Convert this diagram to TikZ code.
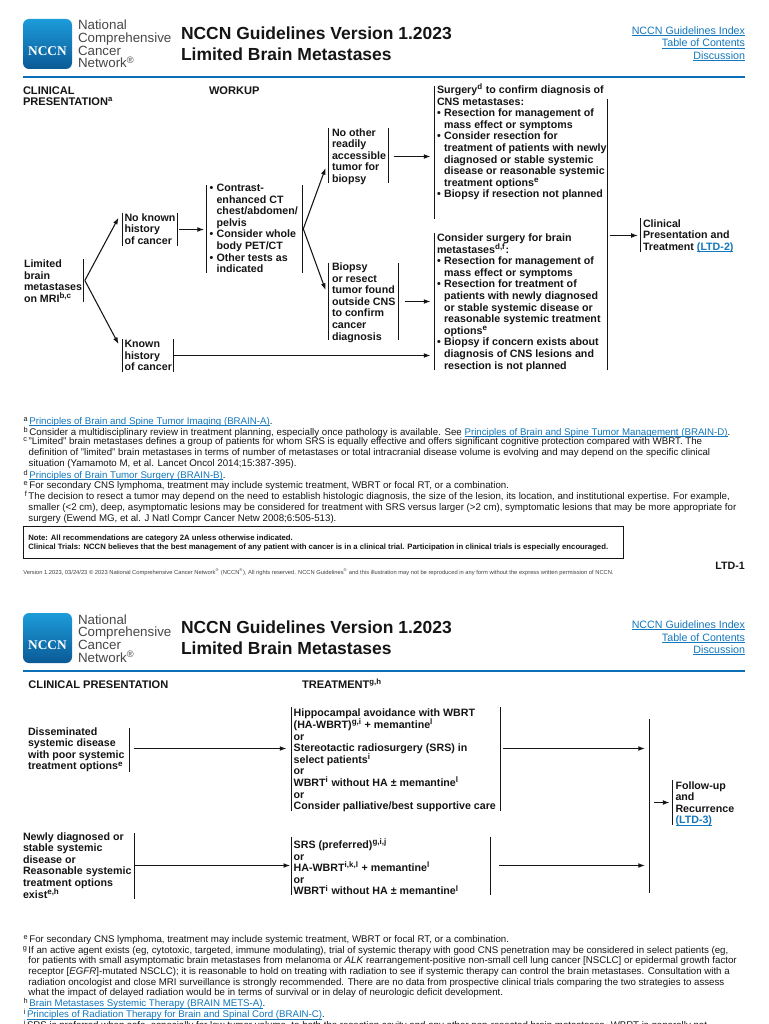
\documentclass[tikz,border=0pt]{standalone}
\usepackage{fontspec}
\setmainfont{Liberation Sans}
\newfontfamily\logoserif{Liberation Serif}
\usetikzlibrary{arrows.meta}
\definecolor{nccnblue}{HTML}{0B6FB5}
\definecolor{nccnlink}{HTML}{1277BD}
\definecolor{ink}{HTML}{151515}
\setlength{\lineskiplimit}{-10pt}
\newcommand\lnk[1]{\textcolor{nccnlink}{\sbox0{#1}\rlap{\rule[-1pt]{\wd0}{0.45pt}}\box0}}
\newcommand\bul{\makebox[5.3pt][l]{•}}
\newcommand\ind{\hspace*{5.3pt}}
\newcommand\su[1]{\smash{\textsuperscript{#1}}}
\newcommand\fm[1]{\strut\llap{\raisebox{2.4pt}{\fontsize{5.5}{6}\selectfont #1}\hspace{1.2pt}}}
\tikzset{
  frame/.style={rectangle,inner sep=0pt,outer sep=0pt},
  bar/.style={line width=0.8pt,draw=ink},
  arr/.style={line width=0.8pt,draw=ink,-{Latex[length=5pt,width=3.6pt]}},
  body/.style={anchor=north west,inner sep=0pt,outer sep=0pt,align=left,text=ink,yshift=3pt,
    font=\fontsize{8}{8.7}\selectfont\bfseries},
  fnote/.style={anchor=north west,inner sep=0pt,outer sep=0pt,align=left,text=ink,yshift=3.2pt,
    font=\fontsize{7.27}{8}\selectfont},
  headtext/.style={body,font=\fontsize{8.3}{8.7}\selectfont\bfseries},
  toplink/.style={anchor=base east,inner sep=0pt,outer sep=0pt,font=\fontsize{8}{9}\selectfont},
  titletext/.style={anchor=west,inner sep=0pt,outer sep=0pt,font=\fontsize{13.1}{15}\selectfont\bfseries,text=ink},
  logotext/.style={anchor=base west,inner sep=0pt,outer sep=0pt,text=black!72,font=\fontsize{10}{12}\selectfont}
}
% name, x0, y0, x1, y1 : an invisible frame whose edges carry the bars
\newcommand\fr[5]{\node[frame,minimum width={(#4-#2)*0.75pt},minimum height={(#5-#3)*0.75pt}] (#1) at ({(#2+#4)/2},{(#3+#5)/2}) {};}
\newcommand\lbar[1]{\draw[bar] (#1.north west) -- (#1.south west);}
\newcommand\rbar[1]{\draw[bar] (#1.north east) -- (#1.south east);}
\definecolor{logotop}{HTML}{1D9CDA}
\definecolor{logobot}{HTML}{0A5A96}
% header shared by both pages
\newcommand\pagehead[2]{%
  \shade[top color=logotop,bottom color=logobot,rounded corners=4.5pt] (23,19+#2) rectangle (72,69+#2);
  \node[inner sep=0pt,text=white,font=\logoserif\fontsize{10}{10}\selectfont\bfseries] (logo#1) at (47.5,51+#2) {NCCN};
  \node[logotext] (lna#1) at (78,30+#2) {National};
  \node[logotext] (lnb#1) at (78,42.7+#2) {Comprehensive};
  \node[logotext] (lnc#1) at (78,55.5+#2) {Cancer};
  \node[logotext] (lnd#1) at (78,68+#2) {Network\su{®}};
  \node[titletext] (ta#1) at (181,33+#2) {NCCN Guidelines Version 1.2023};
  \node[titletext] (tb#1) at (181,54+#2) {Limited Brain Metastases};
  \node[toplink] (la#1) at (745,34.5+#2) {\lnk{NCCN Guidelines Index}};
  \node[toplink] (lb#1) at (745,47+#2) {\lnk{Table of Contents}};
  \node[toplink] (lc#1) at (745,59.5+#2) {\lnk{Discussion}};
  \draw[line width=1.5pt,nccnblue] (23,77+#2) -- (745,77+#2);
}
\begin{document}
\begin{tikzpicture}[x=0.75pt,y=-0.75pt]
\useasboundingbox (0,0) rectangle (768,1024);
\clip (0,0) rectangle (768,1024);
\fill[white] (0,0) rectangle (768,1024);

%%% PAGE 1
\pagehead{p}{0}
\node[headtext] (h1) at (23,90) {\strut CLINICAL\\PRESENTATION\su{a}};
\node[headtext] (h2) at (209,90) {\strut WORKUP};

\fr{lim}{23}{259}{83.5}{302} \rbar{lim}
\node[body] (limt) at (24,263.3) {\strut Limited\\brain\\metastases\\on MRI\su{b,c}};

\fr{nk}{122.5}{212.7}{177.5}{245.7} \lbar{nk} \rbar{nk}
\node[body] (nkt) at (124.5,217) {\strut No known\\history\\of cancer};

\fr{kn}{122.5}{339}{173.5}{372} \lbar{kn} \rbar{kn}
\node[body] (knt) at (124.5,343.3) {\strut Known\\history\\of cancer};

\fr{wk}{206.5}{185}{302.5}{272.7} \lbar{wk} \rbar{wk}
\node[body] (wkt) at (209.5,187.3) {\strut\bul Contrast-\\\ind enhanced CT\\\ind chest/abdomen/\\\ind pelvis\\\bul Consider whole\\\ind body PET/CT\\\bul Other tests as\\\ind indicated};

\fr{no}{328.5}{128}{388.5}{182.7} \lbar{no} \rbar{no}
\node[body] (not) at (332,132) {\strut No other\\readily\\accessible\\tumor for\\biopsy};

\fr{bi}{328.5}{263}{398.5}{340} \lbar{bi} \rbar{bi}
\node[body] (bit) at (332,266.3) {\strut Biopsy\\or resect\\tumor found\\outside CNS\\to confirm\\cancer\\diagnosis};

\fr{sg}{434.5}{86}{607.5}{219} \lbar{sg}
\node[body] (sgt) at (437,89.3) {\strut Surgery\su{d} to confirm diagnosis of\\CNS metastases:\\\bul Resection for management of\\\ind mass effect or symptoms\\\bul Consider resection for\\\ind treatment of patients with newly\\\ind diagnosed or stable systemic\\\ind disease or reasonable systemic\\\ind treatment options\su{e}\\\bul Biopsy if resection not planned};

\fr{co}{434.5}{233}{607.5}{370} \lbar{co}
\node[body] (cot) at (437,237.3) {\strut Consider surgery for brain\\metastases\su{d,f}:\\\bul Resection for management of\\\ind mass effect or symptoms\\\bul Resection for treatment of\\\ind patients with newly diagnosed\\\ind or stable systemic disease or\\\ind reasonable systemic treatment\\\ind options\su{e}\\\bul Biopsy if concern exists about\\\ind diagnosis of CNS lesions and\\\ind resection is not planned};

\fr{sh}{607.5}{99}{607.5}{370} \rbar{sh}

\fr{cl}{640.5}{218.3}{745}{251.7} \lbar{cl}
\node[body] (clt) at (643,223) {\strut Clinical\\Presentation and\\Treatment \lnk{(LTD-2)}};

\draw[arr] ([xshift=1pt]lim.east) -- ([xshift=-3pt]nk.west |- 0,217.7);
\draw[arr] ([xshift=1pt]lim.east) -- ([xshift=-3pt]kn.west |- 0,344);
\draw[arr] ([xshift=1.2pt]nk.east |- 0,229.5) -- ([xshift=-1.8pt]wk.west |- 0,229.5);
\draw[arr] ([xshift=0.6pt]wk.east) -- ([xshift=-2.2pt]no.west |- 0,168);
\draw[arr] ([xshift=0.6pt]wk.east) -- ([xshift=-2.2pt]bi.west |- 0,290);
\draw[arr] ([xshift=3.8pt]no.east |- 0,156.5) -- ([xshift=-3pt]sg.west |- 0,156.5);
\draw[arr] ([xshift=4.5pt]bi.east |- 0,301.5) -- ([xshift=-3pt]co.west |- 0,301.5);
\draw[arr] (kn.east |- 0,355.5) -- ([xshift=-3pt]co.west |- 0,355.5);
\draw[arr] ([xshift=1.5pt]sh.east |- 0,235.5) -- ([xshift=-2pt]cl.west |- 0,235.5);

% footnotes, page 1
\node[fnote] (fa) at (29.4,421) {\fm{a}\lnk{Principles of Brain and Spine Tumor Imaging (BRAIN-A)}.};
\node[fnote] (fb) at (29.4,431.3) {\fm{b}Consider a multidisciplinary review in treatment planning, especially once pathology is available. See \lnk{Principles of Brain and Spine Tumor Management (BRAIN-D)}.};
\node[fnote] (fc) at (28.7,441.7) {\fm{c}"Limited" brain metastases defines a group of patients for whom SRS is equally effective and offers significant cognitive protection compared with WBRT. The\\definition of "limited" brain metastases in terms of number of metastases or total intracranial disease volume is evolving and may depend on the specific clinical\\situation (Yamamoto M, et al. Lancet Oncol 2014;15:387-395).};
\node[fnote] (fd) at (29.4,474.3) {\fm{d}\lnk{Principles of Brain Tumor Surgery (BRAIN-B)}.};
\node[fnote] (fe) at (29.4,485) {\fm{e}For secondary CNS lymphoma, treatment may include systemic treatment, WBRT or focal RT, or a combination.};
\node[fnote] (ff) at (28.5,495.7) {\fm{f}The decision to resect a tumor may depend on the need to establish histologic diagnosis, the size of the lesion, its location, and institutional expertise. For example,\\smaller (<2 cm), deep, asymptomatic lesions may be considered for treatment with SRS versus larger (>2 cm), symptomatic lesions that may be more appropriate for\\surgery (Ewend MG, et al. J Natl Compr Cancer Netw 2008;6:505-513).};

\node[draw=ink,line width=0.9pt,frame,minimum width=450pt,minimum height=24pt] (nb) at (323.5,542.5) {};
\node[anchor=north west,inner sep=0pt,align=left,text=ink,yshift=2.8pt,font=\fontsize{5.8}{7}\selectfont\bfseries] (note) at (28,537.3) {\strut Note: All recommendations are category 2A unless otherwise indicated.\\Clinical Trials: NCCN believes that the best management of any patient with cancer is in a clinical trial. Participation in clinical trials is especially encouraged.};
\node[anchor=west,inner sep=0pt,text=black!75,font=\fontsize{4.33}{5}\selectfont] (ver) at (23,573) {Version 1.2023, 03/24/23 © 2023 National Comprehensive Cancer Network\su{®} (NCCN\su{®}), All rights reserved. NCCN Guidelines\su{®} and this illustration may not be reproduced in any form without the express written permission of NCCN.};
\node[anchor=east,inner sep=0pt,text=ink,font=\fontsize{8}{9}\selectfont\bfseries] (pg) at (745,566) {LTD-1};

%%% PAGE 2
\pagehead{q}{594}
\node[headtext] (h3) at (28.5,684.3) {\strut CLINICAL PRESENTATION};
\node[headtext] (h4) at (302,684.3) {\strut TREATMENT\su{g,h}};

\fr{di}{28}{728.3}{129.5}{771.7} \rbar{di}
\node[body] (dit) at (28,731) {\strut Disseminated\\systemic disease\\with poor systemic\\treatment options\su{e}};

\fr{ha}{291.5}{707.3}{500.5}{810.7} \lbar{ha} \rbar{ha}
\node[body] (hat) at (293.7,712.7) {\strut Hippocampal avoidance with WBRT\\(HA-WBRT)\su{g,i} + memantine\su{l}\\or\\Stereotactic radiosurgery (SRS) in\\select patients\su{i}\\or\\WBRT\su{i} without HA ± memantine\su{l}\\or\\Consider palliative/best supportive care};

\fr{nd}{23}{833.3}{134.5}{899.3} \rbar{nd}
\node[body] (ndt) at (23,836) {\strut Newly diagnosed or\\stable systemic\\disease or\\Reasonable systemic\\treatment options\\exist\su{e,h}};

\fr{sr}{291.5}{836.7}{490.5}{895} \lbar{sr} \rbar{sr}
\node[body] (srt) at (293.7,844.3) {\strut SRS (preferred)\su{g,i,j}\\or\\HA-WBRT\su{i,k,l} + memantine\su{l}\\or\\WBRT\su{i} without HA ± memantine\su{l}};

\fr{bg}{649.5}{719.3}{649.5}{893.3} \lbar{bg}

\fr{fo}{672.5}{780}{745}{825} \lbar{fo}
\node[body] (fot) at (675.5,785) {\strut Follow-up\\and\\Recurrence\\\lnk{(LTD-3)}};

\draw[arr] ([xshift=3pt]di.east |- 0,748.5) -- ([xshift=-3.8pt]ha.west |- 0,748.5);
\draw[arr] ([xshift=1.9pt]ha.east |- 0,748.5) -- ([xshift=-3.4pt]bg.west |- 0,748.5);
\draw[arr] (nd.east |- 0,865.5) -- ([xshift=-1pt]sr.west |- 0,865.5);
\draw[arr] ([xshift=6.5pt]sr.east |- 0,865.5) -- ([xshift=-3.4pt]bg.west |- 0,865.5);
\draw[arr] ([xshift=3.6pt]bg.east |- 0,802.5) -- ([xshift=-2.2pt]fo.west |- 0,802.5);

% footnotes, page 2
\node[fnote] (ge) at (29.4,939) {\fm{e}For secondary CNS lymphoma, treatment may include systemic treatment, WBRT or focal RT, or a combination.};
\node[fnote] (gg) at (28.5,950) {\fm{g}If an active agent exists (eg, cytotoxic, targeted, immune modulating), trial of systemic therapy with good CNS penetration may be considered in select patients (eg,\\for patients with small asymptomatic brain metastases from melanoma or \textit{ALK} rearrangement-positive non-small cell lung cancer [NSCLC] or epidermal growth factor\\receptor [\textit{EGFR}]-mutated NSCLC); it is reasonable to hold on treating with radiation to see if systemic therapy can control the brain metastases. Consultation with a\\radiation oncologist and close MRI surveillance is strongly recommended. There are no data from prospective clinical trials comparing the two strategies to assess\\what the impact of delayed radiation would be in terms of survival or in delay of neurologic deficit development.};
\node[fnote] (gh) at (29.4,1002.7) {\fm{h}\lnk{Brain Metastases Systemic Therapy (BRAIN METS-A)}.};
\node[fnote] (gi) at (27,1013.7) {\fm{i}\lnk{Principles of Radiation Therapy for Brain and Spinal Cord (BRAIN-C)}.};
\node[fnote] (gj) at (27,1024) {\fm{j}SRS is preferred when safe, especially for low tumor volume, to both the resection cavity and any other non-resected brain metastases. WBRT is generally not};
\end{tikzpicture}
\end{document}
